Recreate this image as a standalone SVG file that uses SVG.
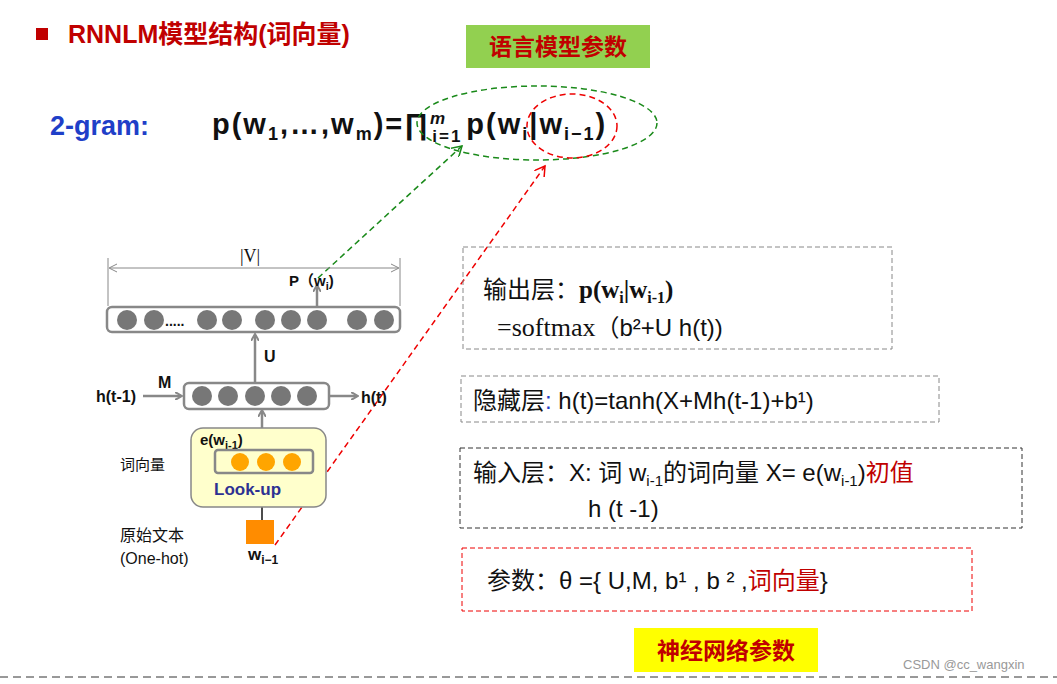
<svg xmlns="http://www.w3.org/2000/svg" width="1057" height="684" viewBox="0 0 1057 684">
<style>
text{font-family:"Liberation Sans","Noto Sans CJK SC",sans-serif;}
.b{font-weight:bold}
.g{fill:#777;stroke:none}
.box{fill:#fff;stroke:#888;stroke-width:2.5}
.ar{stroke:#888;stroke-width:2.5;fill:none;marker-end:url(#ga)}
.t{font-size:24px;fill:#111}
</style>
<defs>
<marker id="ga" markerWidth="8" markerHeight="8" refX="6" refY="4" orient="auto" markerUnits="userSpaceOnUse"><path d="M0,0 L7,4 L0,8" fill="none" stroke="#888" stroke-width="2"/></marker>
<marker id="ka" markerWidth="8" markerHeight="8" refX="6" refY="4" orient="auto" markerUnits="userSpaceOnUse"><path d="M0,0 L7,4 L0,8 z" fill="#111"/></marker>
<marker id="gr" markerWidth="12" markerHeight="12" refX="10" refY="6" orient="auto" markerUnits="userSpaceOnUse"><path d="M0,0 L10,6 L0,12" fill="none" stroke="#1a8a1a" stroke-width="1.5"/></marker>
<marker id="rd" markerWidth="12" markerHeight="12" refX="10" refY="6" orient="auto" markerUnits="userSpaceOnUse"><path d="M0,0 L10,6 L0,12" fill="none" stroke="#e00" stroke-width="1.5"/></marker>
</defs>
<rect width="1057" height="684" fill="#fff"/>
<g id="title">
<rect x="36" y="28" width="12" height="12" fill="#C00000"/>
<text x="68" y="43" class="b" font-size="25" fill="#C00000">RNNLM模型结构(词向量)</text>
</g>
<g id="lmparams"><rect x="466" y="25" width="184" height="43" fill="#92D050"/><text x="558" y="55" text-anchor="middle" class="b" font-size="23" fill="#C00000">语言模型参数</text></g>
<g id="formula">
<text x="50" y="135" class="b" font-size="27" fill="#1F3FC8">2-gram:</text>
<text x="212" y="134" class="b" font-size="29" fill="#111" letter-spacing="2">p(w<tspan font-size="18" dy="6">1</tspan><tspan dy="-6">,…,w</tspan><tspan font-size="18" dy="6">m</tspan><tspan dy="-6">)=∏</tspan><tspan font-size="17" font-style="italic" dy="-10">m</tspan><tspan font-size="17" dx="-15" dy="18">i=1</tspan><tspan dx="4" dy="-8">p(w</tspan><tspan font-size="18" dy="6">i</tspan><tspan dy="-6">|w</tspan><tspan font-size="18" dy="6">i−1</tspan><tspan dy="-6">)</tspan></text>
<ellipse cx="537" cy="123" rx="120" ry="37" fill="none" stroke="#1a8a1a" stroke-width="1.5" stroke-dasharray="6,4"/>
<ellipse cx="572" cy="126" rx="45" ry="32" fill="none" stroke="#e00" stroke-width="1.5" stroke-dasharray="6,4"/>
</g>
<g id="connectors">
<line x1="318" y1="278" x2="462" y2="146" stroke="#1a8a1a" stroke-width="1.5" stroke-dasharray="6,4" marker-end="url(#gr)"/>
<line x1="275" y1="545" x2="545" y2="166" stroke="#e00" stroke-width="1.5" stroke-dasharray="6,4" marker-end="url(#rd)"/>
<line x1="317" y1="307" x2="317" y2="286" class="ar"/>
<line x1="255" y1="383" x2="255" y2="335" class="ar"/>
<line x1="143" y1="396" x2="181" y2="396" class="ar"/>
<line x1="330" y1="396" x2="357" y2="396" class="ar"/>
<line x1="262" y1="450" x2="262" y2="411" class="ar"/>
<line x1="262" y1="520" x2="262" y2="477" stroke="#111" stroke-width="1.5" marker-end="url(#ka)"/>
</g>
<g id="vdim">
<line x1="108" y1="258" x2="108" y2="306" stroke="#888"/>
<line x1="400" y1="258" x2="400" y2="306" stroke="#888"/>
<line x1="110" y1="268" x2="398" y2="268" stroke="#888" stroke-width="1"/>
<path d="M117,264 L109,268 L117,272 M391,264 L399,268 L391,272" fill="none" stroke="#888"/>
<text x="250" y="262" text-anchor="middle" style="font-family:'Liberation Serif'" font-size="18" fill="#111">|V|</text>
</g>
<g id="output">
<rect x="107" y="307" width="293" height="25" rx="5" class="box"/>
<g class="g"><circle cx="127" cy="320" r="10"/><circle cx="154" cy="320" r="10"/><circle cx="207" cy="320" r="10"/><circle cx="232" cy="320" r="10"/><circle cx="265" cy="320" r="10"/><circle cx="291" cy="320" r="10"/><circle cx="317" cy="320" r="10"/><circle cx="357" cy="320" r="10"/><circle cx="384" cy="320" r="10"/></g>
<text x="165" y="326" class="b" font-size="14" fill="#111">.....</text>
<text x="289" y="286" class="b" font-size="15" fill="#111">P（w<tspan font-size="11" dy="4">i</tspan><tspan dy="-4">)</tspan></text>
<text x="264" y="362" class="b" font-size="16" fill="#111">U</text>
</g>
<g id="hidden">
<rect x="184" y="383" width="145" height="26" rx="5" class="box"/>
<g class="g"><circle cx="202" cy="396" r="10"/><circle cx="228" cy="396" r="10"/><circle cx="255" cy="396" r="10"/><circle cx="281" cy="396" r="10"/><circle cx="307" cy="396" r="10"/></g>
<text x="96" y="402" class="b" font-size="16" fill="#111">h(t-1)</text>
<text x="158" y="388" class="b" font-size="16" fill="#111">M</text>
<text x="361" y="403" class="b" font-size="16" fill="#111">h(t)</text>
</g>
<g id="embedding">
<rect x="191" y="428" width="135" height="79" rx="12" fill="#FFFFCC" stroke="#888" stroke-width="1.5"/>
<text x="200" y="445" class="b" font-size="15" fill="#111">e(w<tspan font-size="11" dy="4">i-1</tspan><tspan dy="-4">)</tspan></text>
<rect x="215" y="450" width="98" height="23" rx="3" fill="none" stroke="#888" stroke-width="2.5"/>
<g fill="#FFA500"><circle cx="240" cy="462" r="9"/><circle cx="266" cy="462" r="9"/><circle cx="292" cy="462" r="9"/></g>
<text x="214" y="495" class="b" font-size="17" fill="#2E3192">Look-up</text>
<text x="120" y="470" font-size="15" fill="#111">词向量</text>
</g>
<g id="input">
<rect x="246" y="520" width="28" height="24" fill="#FF8C00"/>
<text x="248" y="560" class="b" font-size="17" fill="#111">w<tspan font-size="12" dy="4">i−1</tspan></text>
<text x="120" y="541" font-size="16" fill="#111">原始文本</text>
<text x="120" y="564" font-size="16" fill="#111">(One-hot)</text>
</g>
<g id="outbox">
<rect x="463" y="247" width="429" height="102" fill="none" stroke="#888" stroke-dasharray="5,3"/>
<text x="483" y="298" class="t">输出层：<tspan style="font-family:'Liberation Serif'" font-weight="bold" font-size="25">p(w<tspan font-size="16" dy="5">i</tspan><tspan dy="-5">|w</tspan><tspan font-size="16" dy="5">i-1</tspan><tspan dy="-5">)</tspan></tspan></text>
<text x="497" y="336" class="t"><tspan style="font-family:'Liberation Serif'" font-size="26">=softmax</tspan>（b²+U h(t))</text>
</g>
<g id="hidbox">
<rect x="461" y="376" width="478" height="46" fill="none" stroke="#888" stroke-dasharray="5,3"/>
<text x="473" y="409" class="t">隐藏层<tspan fill="#1F3FC8">:</tspan>  h(t)=tanh(X+Mh(t-1)+b¹)</text>
</g>
<g id="inbox">
<rect x="460" y="448" width="562" height="80" fill="none" stroke="#333" stroke-dasharray="5,3"/>
<text x="473" y="481" class="t">输入层：X: 词 w<tspan font-size="15" dy="5">i-1</tspan><tspan dy="-5">的词向量 X= e(w</tspan><tspan font-size="15" dy="5">i-1</tspan><tspan dy="-5">)</tspan><tspan fill="#C00000">初值</tspan></text>
<text x="588" y="517" class="t">h (t -1)</text>
</g>
<g id="parambox">
<rect x="462" y="548" width="510" height="63" fill="none" stroke="#e00" stroke-dasharray="5,3"/>
<text x="487" y="589" class="t">参数：θ ={  U,M, b¹ , b ² ,<tspan fill="#C00000">词向量</tspan>}</text>
</g>
<g id="nnparams"><rect x="634" y="628" width="184" height="44" fill="#FFFF00"/><text x="726" y="659" text-anchor="middle" class="b" font-size="23" fill="#C00000">神经网络参数</text></g>
<line x1="0" y1="677" x2="1057" y2="677" stroke="#333" stroke-dasharray="8,5"/>
<text x="903" y="669" font-size="13" fill="#999">CSDN @cc_wangxin</text>
</svg>
